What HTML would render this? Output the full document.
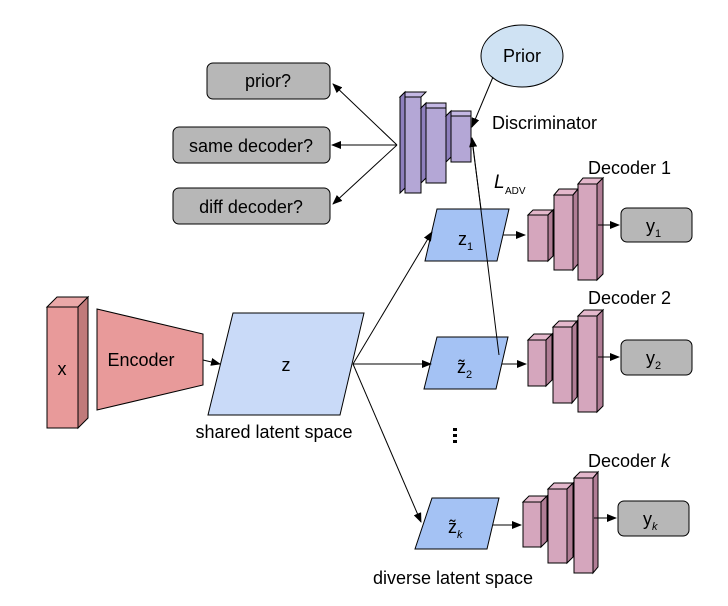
<!DOCTYPE html>
<html><head><meta charset="utf-8"><style>
html,body{margin:0;padding:0;background:#fff;}
svg{display:block;font-family:"Liberation Sans",sans-serif;}
</style></head><body>
<svg width="728" height="606" viewBox="0 0 728 606" xmlns="http://www.w3.org/2000/svg">
<defs>
<marker id="a" markerWidth="10" markerHeight="8" refX="9" refY="4" orient="auto" markerUnits="userSpaceOnUse">
<path d="M0,0 L10,4 L0,8 z" fill="#000"/></marker>
</defs>
<rect width="728" height="606" fill="#fff"/>
<g stroke="#000" stroke-width="1">
<polygon points="47,307 57,297 88,297 78,307" fill="#eaa8a8"/>
<polygon points="78,307 88,297 88,418 78,428" fill="#c07a7a"/>
<rect x="47" y="307" width="31" height="121" fill="#e89a9a"/>
<polygon points="97,309 203,334 203,385 97,410" fill="#e89a9a"/>
<polygon points="233,313 364,313 340,415 208,415" fill="#c9daf8"/>
<ellipse cx="522" cy="56" rx="41" ry="31" fill="#cfe2f3"/>
<rect x="207" y="63" width="123" height="36" rx="6" fill="#b7b7b7"/>
<rect x="173" y="127" width="157" height="36" rx="6" fill="#b7b7b7"/>
<rect x="173" y="188" width="157" height="36" rx="6" fill="#b7b7b7"/>
<rect x="621" y="208" width="71" height="34" rx="6" fill="#b7b7b7"/>
<rect x="621" y="340" width="71" height="35" rx="6" fill="#b7b7b7"/>
<rect x="618" y="501" width="71" height="35" rx="6" fill="#b7b7b7"/>
<polygon points="400,97 405,92 426,92 421,97" fill="#c4b8e4"/>
<polygon points="400,97 405,92 405,188 400,193" fill="#8e7fbd"/>
<rect x="405" y="97" width="16" height="96" fill="#b4a7d6"/>
<polygon points="421,108 426,103 446,103 446,108" fill="#c4b8e4"/>
<polygon points="421,108 426,103 426,178 421,183" fill="#8e7fbd"/>
<rect x="426" y="108" width="20" height="75" fill="#b4a7d6"/>
<polygon points="446,116 451,111 471,111 471,116" fill="#c4b8e4"/>
<polygon points="446,116 451,111 451,157 446,162" fill="#8e7fbd"/>
<rect x="451" y="116" width="20" height="46" fill="#b4a7d6"/>
<polygon points="437,209 509,209 497,261 425,261" fill="#a4c2f4"/>
<polygon points="437,337 508,337 496,389 424,389" fill="#a4c2f4"/>
<polygon points="432,498 499,498 487,549 415,549" fill="#a4c2f4"/>
</g>
<g stroke="#000" stroke-width="1">
<polygon points="528,215 533,210 553,210 548,215" fill="#e4b8cc"/><polygon points="548,215 553,210 553,256 548,261" fill="#b07d95"/><rect x="528" y="215" width="20" height="46" fill="#d5a6bd"/>
<polygon points="554,195 559,189 578,189 573,195" fill="#e4b8cc"/><polygon points="573,195 578,189 578,264 573,270" fill="#b07d95"/><rect x="554" y="195" width="19" height="75" fill="#d5a6bd"/>
<polygon points="578,184 583,178 603,178 597,184" fill="#e4b8cc"/><polygon points="597,184 603,178 603,274 597,280" fill="#b07d95"/><rect x="578" y="184" width="19" height="96" fill="#d5a6bd"/>
<polygon points="528,340 534,334 552,334 546,340" fill="#e4b8cc"/><polygon points="546,340 552,334 552,380 546,386" fill="#b07d95"/><rect x="528" y="340" width="18" height="46" fill="#d5a6bd"/>
<polygon points="553,327 559,321 577,321 572,327" fill="#e4b8cc"/><polygon points="572,327 577,321 577,397 572,403" fill="#b07d95"/><rect x="553" y="327" width="19" height="76" fill="#d5a6bd"/>
<polygon points="578,316 584,310 603,310 597,316" fill="#e4b8cc"/><polygon points="597,316 603,310 603,406 597,412" fill="#b07d95"/><rect x="578" y="316" width="19" height="96" fill="#d5a6bd"/>
<polygon points="523,502 529,496 547,496 541,502" fill="#e4b8cc"/><polygon points="541,502 547,496 547,541 541,547" fill="#b07d95"/><rect x="523" y="502" width="18" height="45" fill="#d5a6bd"/>
<polygon points="548,489 554,483 573,483 567,489" fill="#e4b8cc"/><polygon points="567,489 573,483 573,557 567,563" fill="#b07d95"/><rect x="548" y="489" width="19" height="74" fill="#d5a6bd"/>
<polygon points="574,478 580,472 598,472 593,478" fill="#e4b8cc"/><polygon points="593,478 598,472 598,567 593,573" fill="#b07d95"/><rect x="574" y="478" width="19" height="95" fill="#d5a6bd"/>
</g>
<g stroke="#000" stroke-width="1" fill="none" marker-end="url(#a)">
<line x1="203" y1="360" x2="220" y2="364"/>
<line x1="353" y1="364" x2="432" y2="232"/>
<line x1="353" y1="364" x2="431" y2="364"/>
<line x1="353" y1="364" x2="421" y2="522"/>
<line x1="503" y1="235" x2="525" y2="235"/>
<line x1="502" y1="364" x2="526" y2="364"/>
<line x1="493" y1="525" x2="521" y2="525"/>
<line x1="598" y1="225" x2="619" y2="225"/>
<line x1="598" y1="357" x2="619" y2="357"/>
<line x1="594" y1="518" x2="616" y2="518"/>
<line x1="397" y1="145" x2="333" y2="84"/>
<line x1="397" y1="145" x2="332" y2="145"/>
<line x1="397" y1="145" x2="333" y2="204"/>
<line x1="493" y1="77" x2="472" y2="127"/>
<line x1="499" y1="355" x2="472" y2="138"/>
</g>
<line x1="481" y1="209" x2="472" y2="140" stroke="#000" stroke-width="1"/>
<g fill="#000" font-size="18">
<text x="62" y="375" text-anchor="middle">x</text>
<text x="141" y="366" text-anchor="middle">Encoder</text>
<text x="286" y="371" text-anchor="middle">z</text>
<text x="274" y="438" text-anchor="middle">shared latent space</text>
<text x="522" y="62" text-anchor="middle">Prior</text>
<text x="268" y="87" text-anchor="middle">prior?</text>
<text x="251" y="152" text-anchor="middle">same decoder?</text>
<text x="251" y="213" text-anchor="middle">diff decoder?</text>
<text x="492" y="129">Discriminator</text>
<text x="494" y="188" font-style="italic" font-size="19">L</text><text x="505" y="194" font-size="10">ADV</text>
<text x="588" y="174">Decoder 1</text>
<text x="588" y="304">Decoder 2</text>
<text x="588" y="467">Decoder <tspan font-style="italic">k</tspan></text>
<text x="458" y="245">z<tspan font-size="11" dy="5">1</tspan></text>
<text x="457" y="373">z̃<tspan font-size="11" dy="5">2</tspan></text>
<text x="448" y="533">z̃<tspan font-size="11" dy="5" font-style="italic">k</tspan></text>
<text x="646" y="232">y<tspan font-size="11" dy="5">1</tspan></text>
<text x="646" y="364">y<tspan font-size="11" dy="5">2</tspan></text>
<text x="643" y="525">y<tspan font-size="11" dy="5" font-style="italic">k</tspan></text>
<text x="453" y="584" text-anchor="middle">diverse latent space</text>
</g>
<g fill="#000"><rect x="453" y="428" width="4" height="3"/><rect x="453" y="434" width="4" height="3"/><rect x="453" y="440" width="4" height="3"/></g>
</svg>
</body></html>
